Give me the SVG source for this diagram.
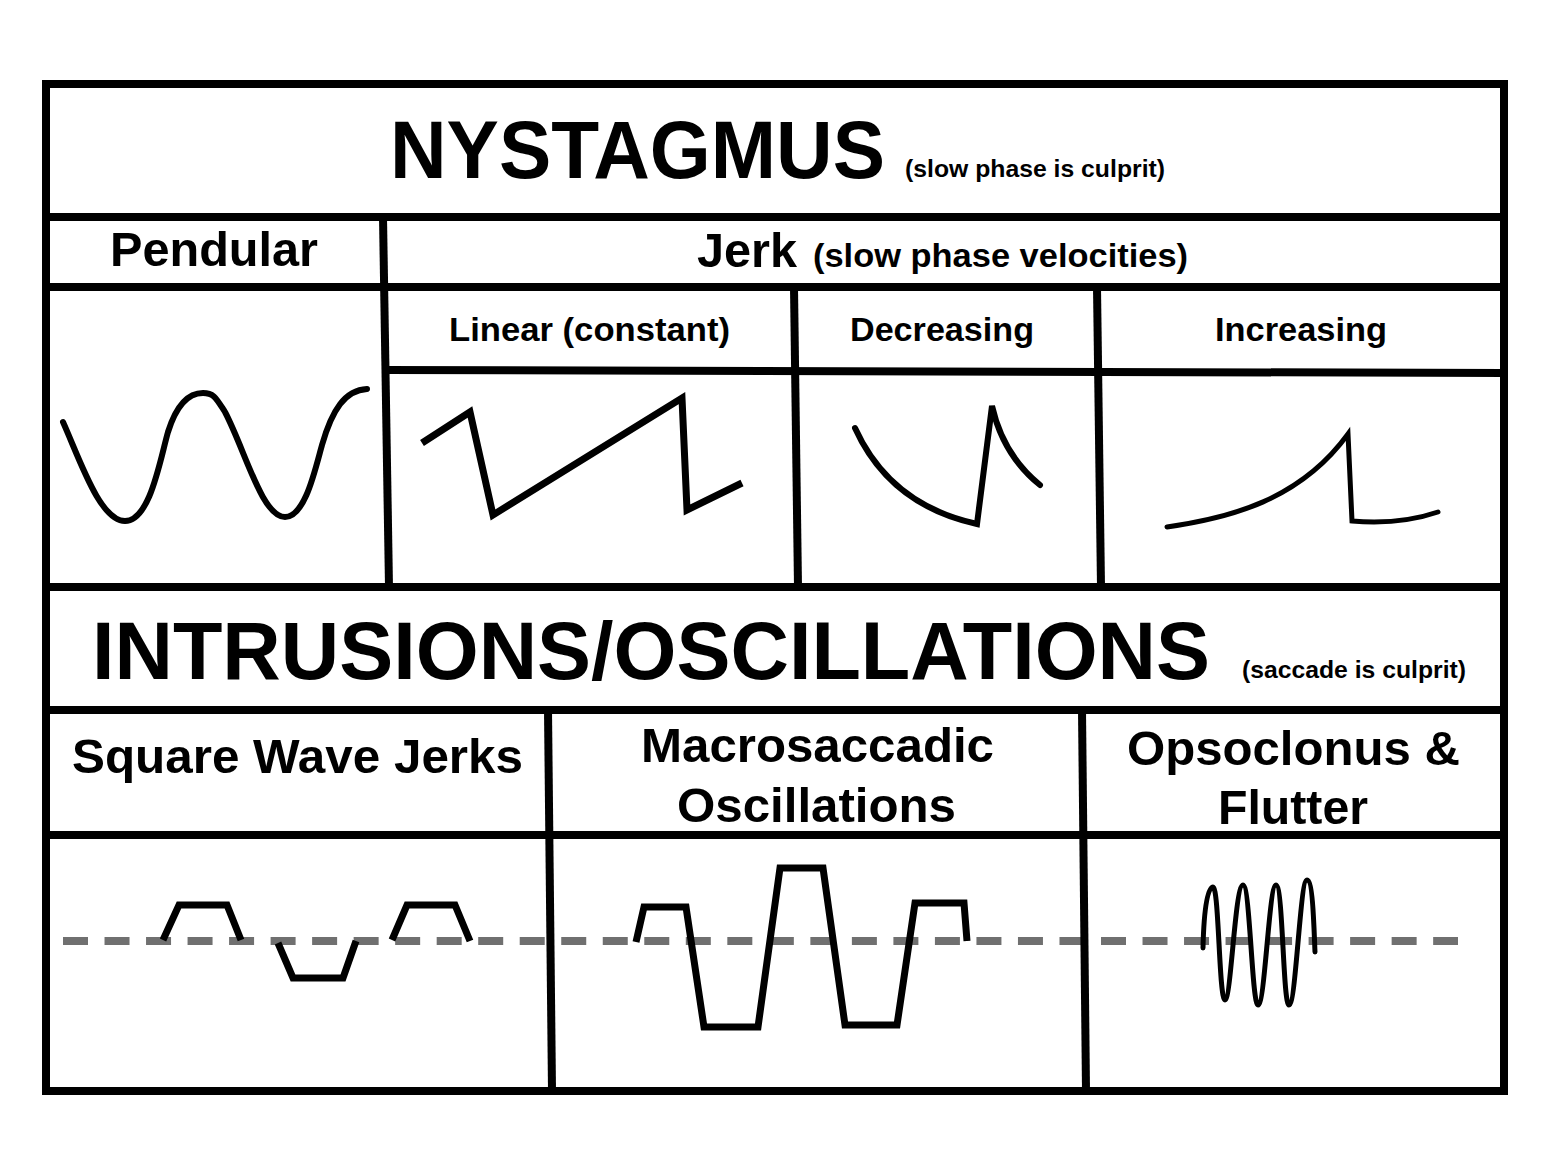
<svg xmlns="http://www.w3.org/2000/svg" width="1568" height="1169" viewBox="0 0 1568 1169">
  <style>
    .grid { stroke: #000; stroke-width: 8; fill: none; }
    .t { font-family: "Liberation Sans", Arial, Helvetica, sans-serif; font-weight: bold; fill: #000; }
    .big { font-size: 81px; }
    .hdr { font-size: 48px; }
    .sub { font-size: 34px; }
    .note { font-size: 24px; }
    .wave { stroke: #000; fill: none; stroke-width: 7; stroke-linejoin: miter; }
    .smooth { stroke: #000; fill: none; stroke-width: 6; stroke-linecap: round; stroke-linejoin: round; }
    .dash { stroke: #707070; stroke-width: 8; stroke-dasharray: 25 16.52; fill: none; }
  </style>
  <rect width="1568" height="1169" fill="#fff"/>

  <!-- baseline dashed reference -->
  <line class="dash" x1="63" y1="941" x2="1458" y2="941"/>

  <!-- table grid -->
  <g id="grid">
    <rect class="grid" x="46" y="84" width="1458" height="1007"/>
    <line class="grid" x1="46" y1="217" x2="1504" y2="217"/>
    <line class="grid" x1="46" y1="287" x2="1504" y2="287"/>
    <line class="grid" x1="385" y1="370" x2="1504" y2="373"/>
    <line class="grid" x1="46" y1="587" x2="1504" y2="587"/>
    <line class="grid" x1="46" y1="710" x2="1504" y2="710"/>
    <line class="grid" x1="46" y1="835" x2="1504" y2="835"/>
    <line class="grid" x1="383" y1="217" x2="389" y2="587"/>
    <line class="grid" x1="794" y1="287" x2="798" y2="587"/>
    <line class="grid" x1="1097" y1="287" x2="1101" y2="587"/>
    <line class="grid" x1="548" y1="710" x2="552" y2="1091"/>
    <line class="grid" x1="1082" y1="710" x2="1086" y2="1091"/>
  </g>

  <g id="connectors"></g>

  <g id="nystagmus-title">
    <text class="t big" x="390" y="178" textLength="495" lengthAdjust="spacingAndGlyphs">NYSTAGMUS</text>
    <text class="t note" x="905" y="177" textLength="260" lengthAdjust="spacingAndGlyphs">(slow phase is culprit)</text>
  </g>

  <g id="pendular">
    <text class="t hdr" x="110" y="266" textLength="208" lengthAdjust="spacingAndGlyphs">Pendular</text>
    <path class="smooth" d="M63 422 C80 460 100 521 125 521 C150 521 160 460 168 432 C178 400 192 393 203 393 C214 393 216 398 225 412 C245 450 262 517 285 517 C305 517 315 470 322 445 C332 410 345 390 367 389"/>
  </g>

  <g id="jerk">
    <text class="t hdr" x="697" y="267" textLength="100" lengthAdjust="spacingAndGlyphs">Jerk</text>
    <text class="t sub" x="813" y="267" textLength="375" lengthAdjust="spacingAndGlyphs">(slow phase velocities)</text>
  </g>

  <g id="linear">
    <text class="t sub" x="449" y="341" textLength="281" lengthAdjust="spacingAndGlyphs">Linear (constant)</text>
    <polyline class="wave" points="422,443 470,412 493,515 682,398 687,510 742,483"/>
  </g>

  <g id="decreasing">
    <text class="t sub" x="850" y="341" textLength="184" lengthAdjust="spacingAndGlyphs">Decreasing</text>
    <path class="smooth" style="stroke-linejoin:miter" d="M855 428 Q890 505 977 524 L992 406 Q1003 455 1040 485"/>
  </g>

  <g id="increasing">
    <text class="t sub" x="1215" y="341" textLength="172" lengthAdjust="spacingAndGlyphs">Increasing</text>
    <path class="smooth" style="stroke-width:5;stroke-linejoin:miter" d="M1167 527 C1230 518 1300 500 1348 434 L1352 521 Q1400 525 1438 512"/>
  </g>

  <g id="intrusions-title">
    <text class="t big" x="92" y="679" textLength="1118" lengthAdjust="spacingAndGlyphs">INTRUSIONS/OSCILLATIONS</text>
    <text class="t note" x="1242" y="678" textLength="224" lengthAdjust="spacingAndGlyphs">(saccade is culprit)</text>
  </g>

  <g id="square-wave-jerks">
    <text class="t hdr" x="72" y="773" style="font-size:49px" textLength="451" lengthAdjust="spacingAndGlyphs">Square Wave Jerks</text>
    <polyline class="wave" points="163,940 179,905 227,905 241,940"/>
    <polyline class="wave" points="278,943 293,978 343,978 356,941"/>
    <polyline class="wave" points="392,940 407,905 455,905 470,941"/>
  </g>

  <g id="macrosaccadic-oscillations">
    <text class="t hdr" x="641" y="762" style="font-size:49px" textLength="353" lengthAdjust="spacingAndGlyphs">Macrosaccadic</text>
    <text class="t hdr" x="677" y="822" style="font-size:49px" textLength="279" lengthAdjust="spacingAndGlyphs">Oscillations</text>
    <polyline class="wave" points="636,942 644,907 686,907 704,1027 758,1027 780,868 823,868 845,1025 897,1025 915,903 964,903 967,941"/>
  </g>

  <g id="opsoclonus-flutter">
    <text class="t hdr" x="1127" y="765" style="font-size:49px" textLength="333" lengthAdjust="spacingAndGlyphs">Opsoclonus &amp;</text>
    <text class="t hdr" x="1218" y="824" style="font-size:49px" textLength="150" lengthAdjust="spacingAndGlyphs">Flutter</text>
    <path class="smooth" style="stroke-width:5" d="M1203 948 C1204 905 1208 887 1213 887 C1219 887 1219 1000 1225 1000 C1231 1000 1235 885 1243 885 C1250 885 1252 1005 1258 1005 C1265 1005 1269 885 1276 885 C1283 885 1283 1005 1289 1005 C1296 1005 1300 880 1307 880 C1313 880 1314 930 1315 952"/>
  </g>
</svg>
